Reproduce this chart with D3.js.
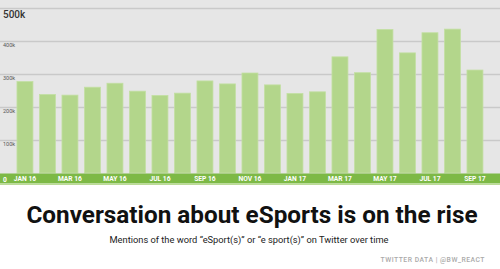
<!DOCTYPE html>
<html>
<head>
<meta charset="utf-8">
<script src="https://cdn.jsdelivr.net/npm/d3@7"></script>
<style>
  body { margin: 0; background: #fff; }
  svg { display: block; font-family: Roboto, "Noto Sans", sans-serif; }
</style>
</head>
<body>
<svg id="chart"></svg>
<script>
var months = ["JAN 16","FEB 16","MAR 16","APR 16","MAY 16","JUN 16","JUL 16","AUG 16","SEP 16","OCT 16","NOV 16","DEC 16",
              "JAN 17","FEB 17","MAR 17","APR 17","MAY 17","JUN 17","JUL 17","AUG 17","SEP 17"];
var mentions = [277000, 238000, 236000, 260000, 272000, 248000, 235000, 242000, 279000, 270000, 303000, 267000,
                241000, 246000, 352000, 304000, 435000, 364000, 425000, 436000, 312000];
var yTicks = [100000, 200000, 300000, 400000, 500000];

var width = 500, height = 269;
var svg = d3.select("#chart")
    .attr("width", width)
    .attr("height", height);

var xScale = d3.scaleBand()
    .domain(months)
    .range([13.7, 486.2])
    .paddingInner(0.29)
    .paddingOuter(0.145);
var yScale = d3.scaleLinear()
    .domain([0, 500000])
    .range([173, 8]);

// grey plot background
svg.append("rect")
    .attr("x", 0).attr("y", 0)
    .attr("width", width).attr("height", 174)
    .attr("fill", "#e6e6e6");

// gridlines + labels
var grid = svg.append("g").attr("class", "grid")
    .call(d3.axisLeft(yScale).tickValues(yTicks).tickSize(-width).tickFormat(""))
    .call(g => g.select(".domain").remove());
grid.selectAll(".tick line")
    .attr("stroke", "#c9c9c9")
    .attr("stroke-width", 1.3);

svg.selectAll(".ylabel")
    .data(yTicks)
  .enter().append("text")
    .attr("class", "ylabel")
    .attr("x", 3)
    .attr("y", d => yScale(d) + (d == 500000 ? 10 : 6))
    .attr("font-size", d => d == 500000 ? 10 : 5.5)
    .attr("font-weight", d => d == 500000 ? 500 : 400)
    .attr("fill", d => d == 500000 ? "#333" : "#555")
    .text(d => d3.format("d")(d / 1000) + "k");

// bars
svg.selectAll(".bar")
    .data(mentions)
  .enter().append("rect")
    .attr("class", "bar")
    .attr("x", (d, i) => xScale(months[i]))
    .attr("y", d => yScale(d))
    .attr("width", xScale.bandwidth())
    .attr("height", d => yScale(0) - yScale(d))
    .attr("fill", "#b3d68b")
    .attr("stroke", "#c3dfa3")
    .attr("stroke-width", 0.8);

// green axis band
svg.append("rect")
    .attr("x", 0).attr("y", 173.5)
    .attr("width", width).attr("height", 10)
    .attr("fill", "#7db946");
svg.append("rect")
    .attr("x", 0).attr("y", 183.5)
    .attr("width", width).attr("height", 1.5)
    .attr("fill", "#bcdb97");

var xAxis = svg.append("g")
    .attr("transform", "translate(0,173.5)")
    .call(d3.axisBottom(xScale)
        .tickValues(months.filter((d, i) => i % 2 == 0))
        .tickSize(0)
        .tickPadding(2.3))
    .call(g => g.select(".domain").remove());
xAxis.selectAll("text")
    .attr("fill", "#fff")
    .attr("font-size", 6.7)
    .attr("font-weight", 700)
    .attr("font-family", "Roboto, sans-serif");

svg.append("text")
    .attr("x", 3).attr("y", 181.5)
    .attr("fill", "#fff")
    .attr("font-size", 6.7)
    .attr("font-weight", 700)
    .text("0");

// titles
svg.append("text")
    .attr("x", 252).attr("y", 222.5)
    .attr("text-anchor", "middle")
    .attr("font-size", 24.3)
    .attr("font-weight", 700)
    .attr("fill", "#111")
    .text("Conversation about eSports is on the rise");

svg.append("text")
    .attr("x", 249).attr("y", 243)
    .attr("text-anchor", "middle")
    .attr("font-size", 9.3)
    .attr("fill", "#222")
    .text("Mentions of the word \u201ceSport(s)\u201d or \u201ce sport(s)\u201d on Twitter over time");

svg.append("text")
    .attr("x", 485).attr("y", 262)
    .attr("text-anchor", "end")
    .attr("font-size", 6.8)
    .attr("font-weight", 500)
    .attr("letter-spacing", 0.5)
    .attr("fill", "#aaa")
    .text("TWITTER DATA | @BW_REACT");
</script>
</body>
</html>
